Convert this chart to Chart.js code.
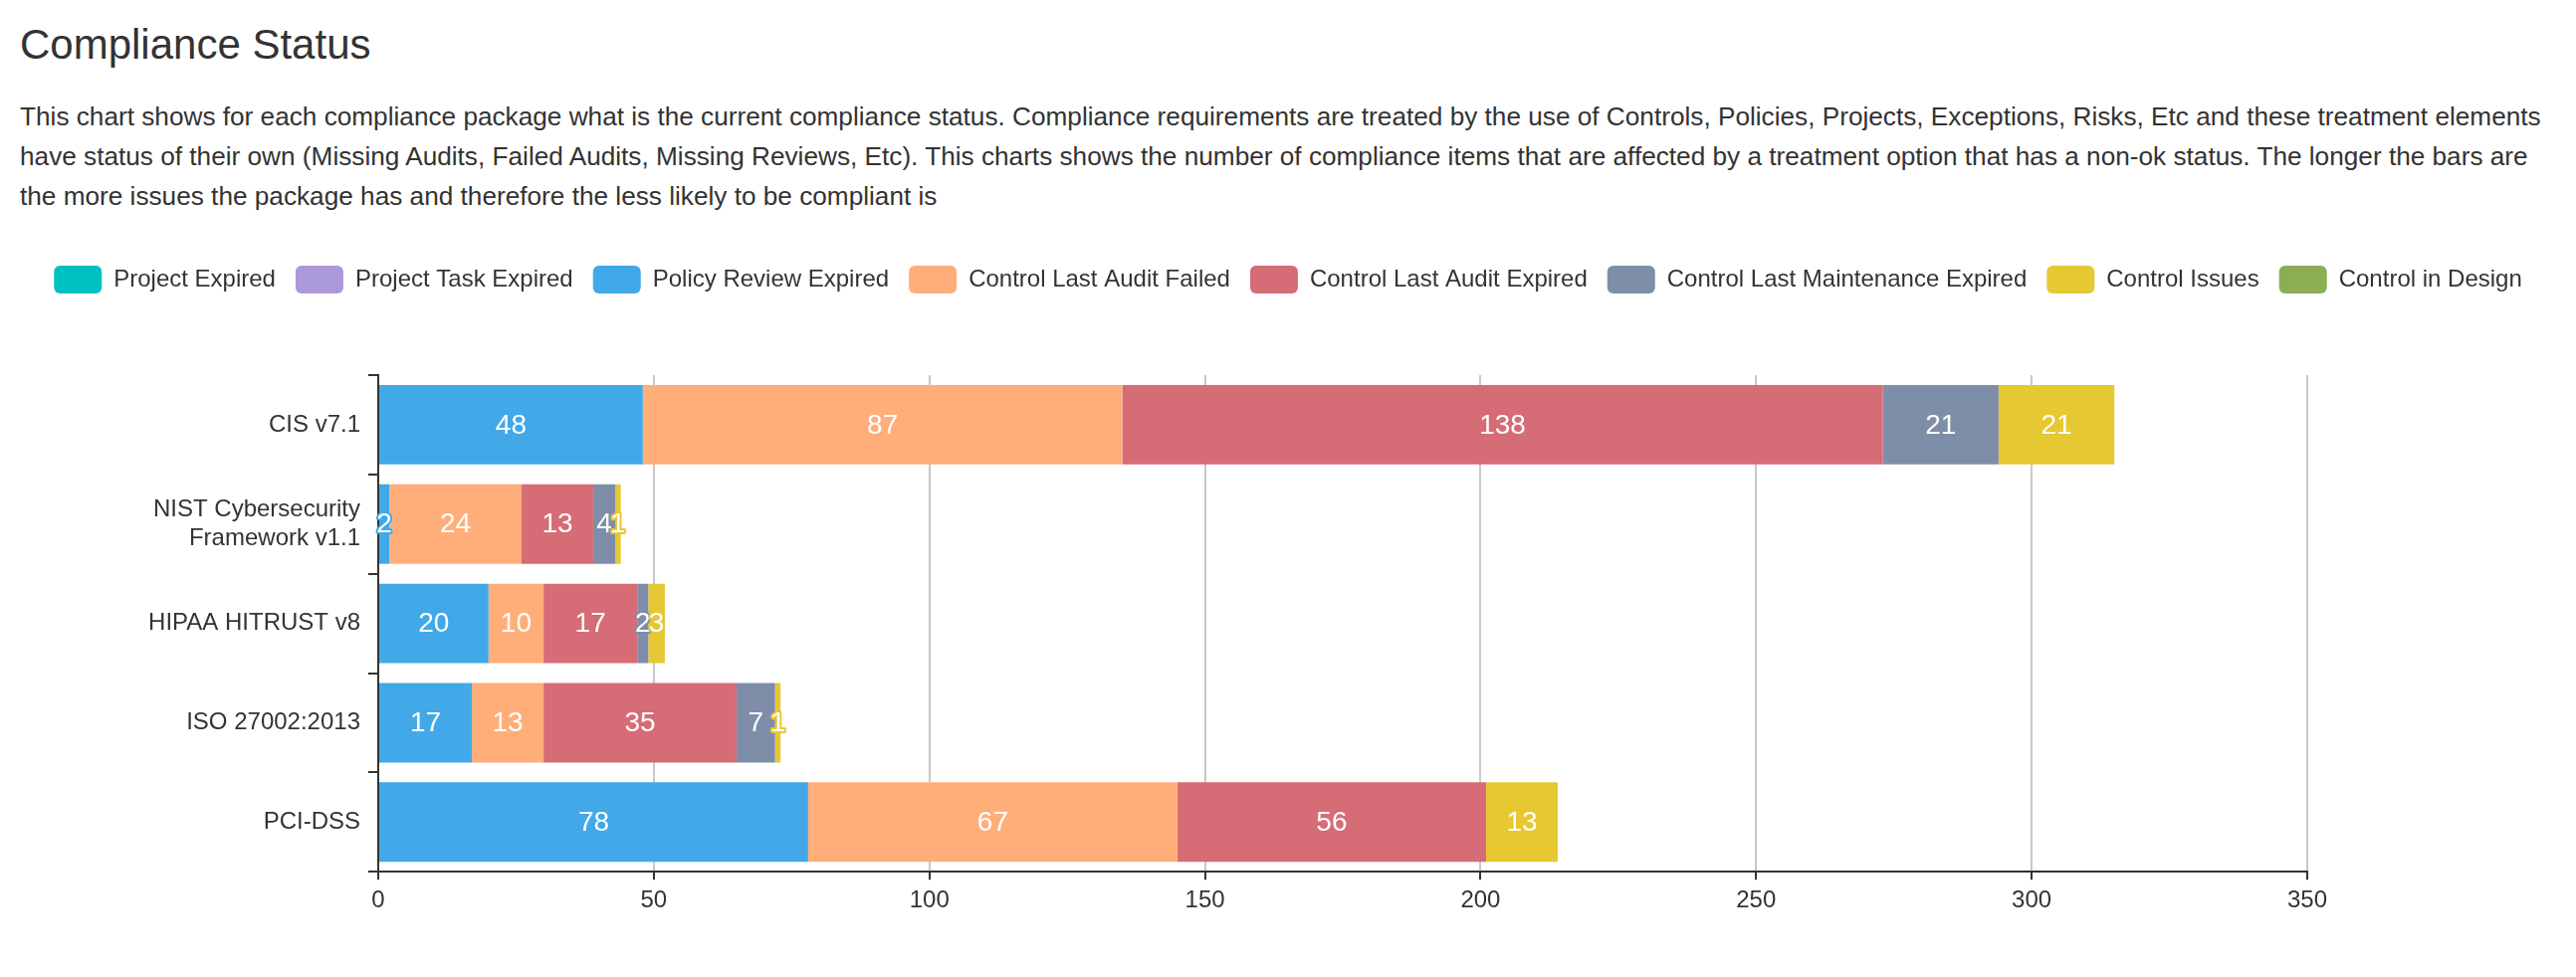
<!DOCTYPE html>
<html>
<head>
<meta charset="utf-8">
<title>Compliance Status</title>
<script src="https://cdn.jsdelivr.net/npm/chart.js@4.4.0/dist/chart.umd.min.js"></script>
<style>
    body { margin: 0; background: #fff; color: #333; font-family: "Liberation Sans", Arial, sans-serif; }
    h2 { position: absolute; left: 20px; top: 24px; margin: 0; font-size: 42px; line-height: 42px; font-weight: normal; }
    p { position: absolute; left: 20px; top: 97px; margin: 0; font-size: 26.2px; line-height: 40px; white-space: nowrap; }
    .chart-box { position: absolute; left: 20px; top: 247px; width: 2548px; height: 735px; }
</style>
</head>
<body>
<h2>Compliance Status</h2>
<p>This chart shows for each compliance package what is the current compliance status. Compliance requirements are treated by the use of Controls, Policies, Projects, Exceptions, Risks, Etc and these treatment elements<br>have status of their own (Missing Audits, Failed Audits, Missing Reviews, Etc). This charts shows the number of compliance items that are affected by a treatment option that has a non-ok status. The longer the bars are<br>the more issues the package has and therefore the less likely to be compliant is</p>
<div class="chart-box"><canvas id="complianceChart"></canvas></div>

<script>
const packages = ['CIS v7.1', ['NIST Cybersecurity', 'Framework v1.1'], 'HIPAA HITRUST v8', 'ISO 27002:2013', 'PCI-DSS'];

const projectExpired = [0, 0, 0, 0, 0];
const projectTaskExpired = [0, 0, 0, 0, 0];
const policyReviewExpired = [48, 2, 20, 17, 78];
const controlAuditFailed = [87, 24, 10, 13, 67];
const controlAuditExpired = [138, 13, 17, 35, 56];
const controlMaintenanceExpired = [21, 4, 2, 7, 0];
const controlIssues = [21, 1, 3, 1, 13];
const controlInDesign = [0, 0, 0, 0, 0];

const xMin = 0;
const xMax = 350;
const xStep = 50;

const font = '"Liberation Sans", Arial, sans-serif';

// white numbers in the middle of every segment, outlined in the segment colour
const barLabels = {
    id: 'barLabels',
    afterDatasetsDraw(chart) {
        const ctx = chart.ctx;
        ctx.save();
        ctx.font = '28px ' + font;
        ctx.textAlign = 'center';
        ctx.textBaseline = 'middle';
        ctx.lineJoin = 'round';
        ctx.lineWidth = 4;
        chart.data.datasets.forEach((ds, i) => {
            const meta = chart.getDatasetMeta(i);
            meta.data.forEach((bar, j) => {
                const v = ds.data[j];
                if (!v) return;
                const p = bar.getCenterPoint();
                ctx.strokeStyle = ds.backgroundColor;
                ctx.strokeText(v, p.x, p.y + 1);
                ctx.fillStyle = '#fff';
                ctx.fillText(v, p.x, p.y + 1);
            });
        });
        ctx.restore();
    }
};

// push the plot down below the legend
const legendGap = {
    id: 'legendGap',
    beforeInit(chart) {
        const fit = chart.legend.fit;
        chart.legend.fit = function () {
            fit.bind(chart.legend)();
            this.height += 72;
        };
    }
};

const series = [
    { label: 'Project Expired', data: projectExpired, backgroundColor: '#00c1c1' },
    { label: 'Project Task Expired', data: projectTaskExpired, backgroundColor: '#ab9ad9' },
    { label: 'Policy Review Expired', data: policyReviewExpired, backgroundColor: '#42a9e8' },
    { label: 'Control Last Audit Failed', data: controlAuditFailed, backgroundColor: '#ffae7a' },
    { label: 'Control Last Audit Expired', data: controlAuditExpired, backgroundColor: '#d66c76' },
    { label: 'Control Last Maintenance Expired', data: controlMaintenanceExpired, backgroundColor: '#7f8ea8' },
    { label: 'Control Issues', data: controlIssues, backgroundColor: '#e6c833' },
    { label: 'Control in Design', data: controlInDesign, backgroundColor: '#8dad52' }
];

new Chart(document.getElementById('complianceChart'), {
    type: 'bar',
    data: {
        labels: packages,
        datasets: series.map(s => Object.assign({
            borderWidth: 0,
            categoryPercentage: 1,
            barPercentage: 0.8
        }, s))
    },
    plugins: [barLabels, legendGap],
    options: {
        indexAxis: 'y',
        responsive: true,
        maintainAspectRatio: false,
        devicePixelRatio: 1,
        animation: false,
        layout: {
            padding: { top: 0, right: 0, bottom: 55, left: 0 }
        },
        scales: {
            x: {
                stacked: true,
                min: xMin,
                max: xMax,
                ticks: {
                    stepSize: xStep,
                    color: '#333',
                    padding: 7,
                    font: { family: font, size: 24 }
                },
                grid: {
                    color: '#c8c8c8',
                    lineWidth: 2,
                    tickColor: '#333',
                    tickLength: 8
                },
                border: { color: '#333', width: 2 },
                afterFit(scale) {
                    scale.paddingRight = 250;
                }
            },
            y: {
                stacked: true,
                ticks: {
                    color: '#333',
                    padding: 8,
                    font: { family: font, size: 24, lineHeight: 1.2 }
                },
                grid: {
                    drawOnChartArea: false,
                    color: '#333',
                    lineWidth: 2,
                    tickLength: 10
                },
                border: { color: '#333', width: 2 },
                afterFit(scale) {
                    scale.width = 360;
                }
            }
        },
        plugins: {
            tooltip: { enabled: false },
            legend: {
                position: 'top',
                labels: {
                    color: '#333',
                    font: { family: font, size: 24 },
                    boxWidth: 48,
                    boxHeight: 28,
                    padding: 20,
                    useBorderRadius: true,
                    borderRadius: 6
                }
            }
        }
    }
});
</script>
</body>
</html>
